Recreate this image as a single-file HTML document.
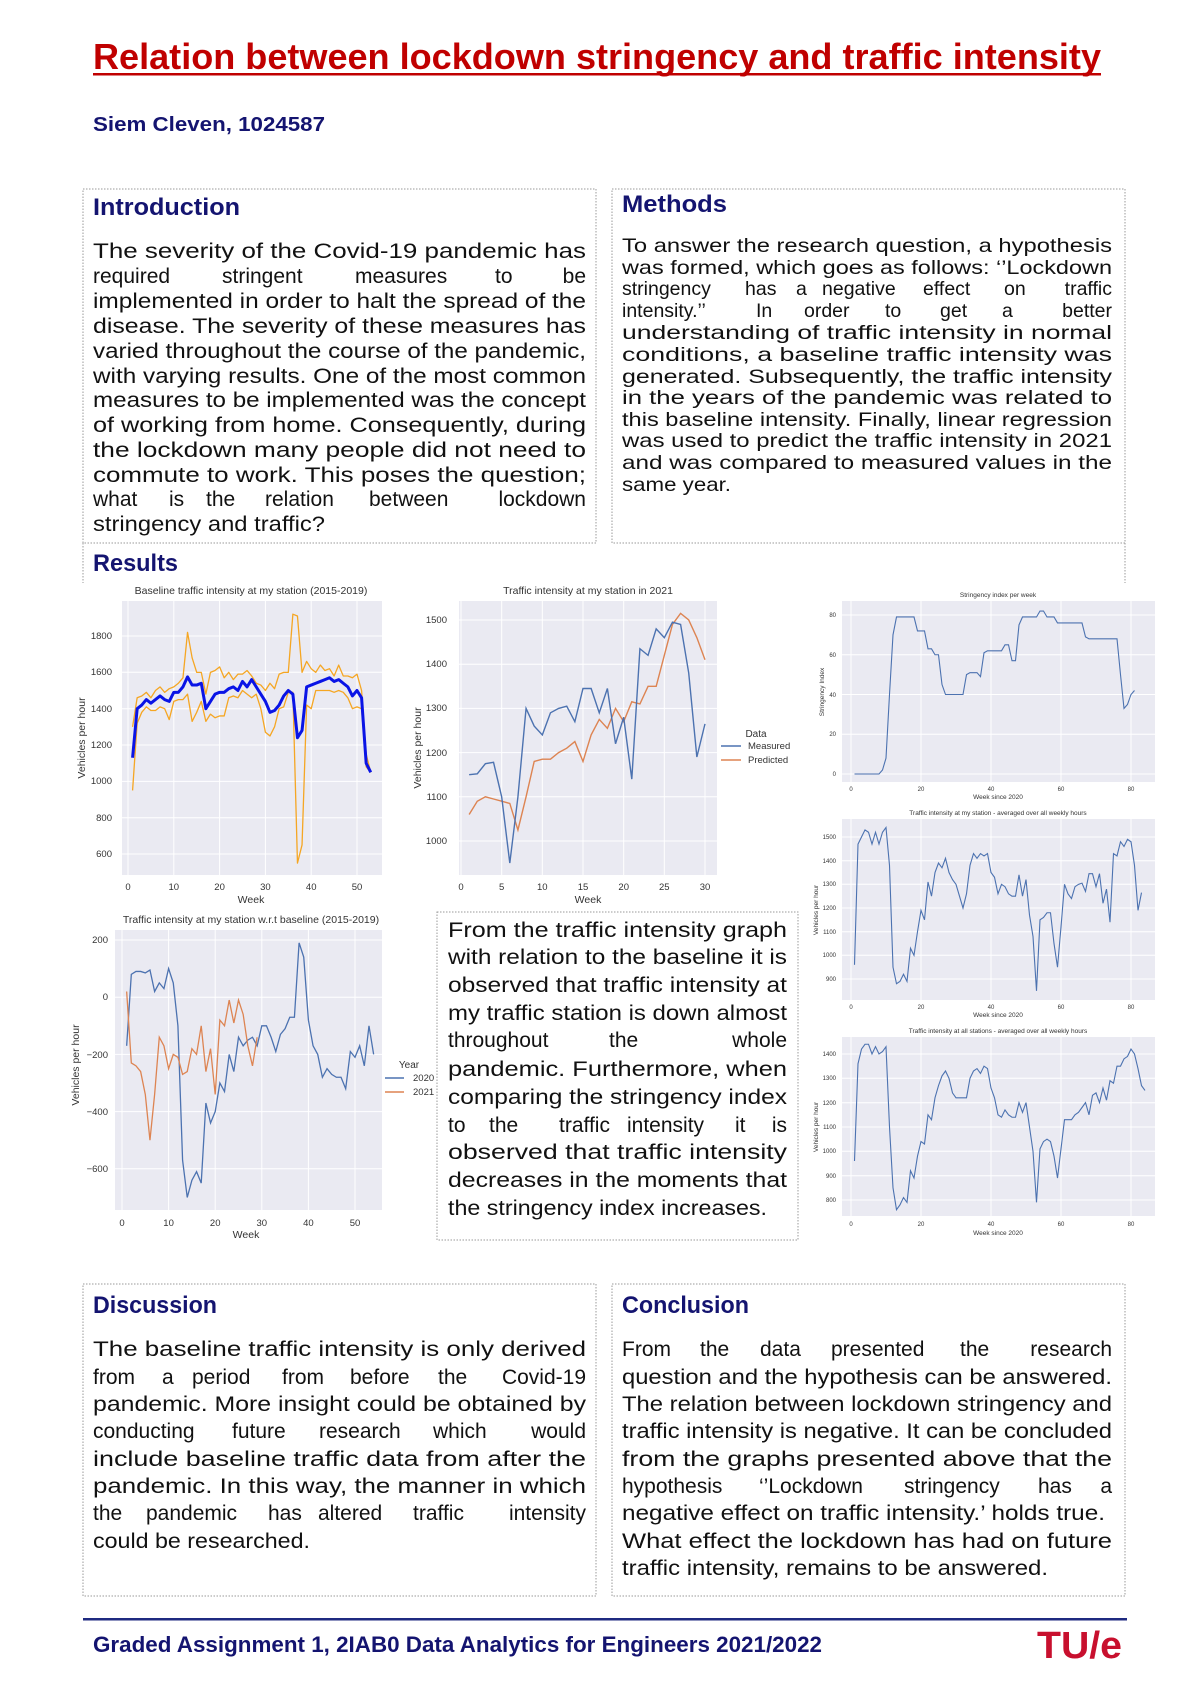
<!DOCTYPE html>
<html><head><meta charset="utf-8"><style>html,body{margin:0;padding:0;background:#fff}svg{display:block}</style></head><body>
<svg width="1200" height="1698" viewBox="0 0 1200 1698" xmlns="http://www.w3.org/2000/svg" font-family="Liberation Sans, sans-serif">
<!-- header -->
<text x="93" y="69" font-size="36" font-weight="bold" fill="#c00000" textLength="1008" lengthAdjust="spacingAndGlyphs">Relation between lockdown stringency and traffic intensity</text>
<rect x="93" y="73" width="1008" height="2.5" fill="#c00000"/>
<text x="93" y="131" font-size="20" font-weight="bold" fill="#141470" textLength="232" lengthAdjust="spacingAndGlyphs">Siem Cleven, 1024587</text>

<!-- boxes -->
<g fill="none" stroke="#9a9a9a" stroke-width="1" stroke-dasharray="1.5,1.5">
<rect x="83" y="189" width="513" height="354"/>
<rect x="612" y="189" width="513" height="354"/>
<line x1="83" y1="543" x2="83" y2="583"/>
<line x1="1125" y1="543" x2="1125" y2="583"/>
<rect x="437" y="912" width="361" height="328"/>
<rect x="83" y="1284" width="513" height="312"/>
<rect x="612" y="1284" width="513" height="312"/>
</g>

<g font-size="24" font-weight="bold" fill="#141470">
<text x="93" y="215" textLength="147" lengthAdjust="spacingAndGlyphs">Introduction</text>
<text x="622" y="212" textLength="105" lengthAdjust="spacingAndGlyphs">Methods</text>
<text x="93" y="571" textLength="85" lengthAdjust="spacingAndGlyphs">Results</text>
<text x="93" y="1313" textLength="124" lengthAdjust="spacingAndGlyphs">Discussion</text>
<text x="622" y="1313" textLength="127" lengthAdjust="spacingAndGlyphs">Conclusion</text>
</g>

<!-- intro text -->
<g font-size="21" fill="#111">
<text x="93" y="258" textLength="493" lengthAdjust="spacingAndGlyphs">The severity of the Covid-19 pandemic has</text>
<text y="283"><tspan x="93">required</tspan><tspan x="222">stringent</tspan><tspan x="355">measures</tspan><tspan x="495">to</tspan></text><text x="586" y="283" text-anchor="end">be</text>
<text x="93" y="308" textLength="493" lengthAdjust="spacingAndGlyphs">implemented in order to halt the spread of the</text>
<text x="93" y="333" textLength="493" lengthAdjust="spacingAndGlyphs">disease. The severity of these measures has</text>
<text x="93" y="358" textLength="493" lengthAdjust="spacingAndGlyphs">varied throughout the course of the pandemic,</text>
<text x="93" y="383" textLength="493" lengthAdjust="spacingAndGlyphs">with varying results. One of the most common</text>
<text x="93" y="407" textLength="493" lengthAdjust="spacingAndGlyphs">measures to be implemented was the concept</text>
<text x="93" y="432" textLength="493" lengthAdjust="spacingAndGlyphs">of working from home. Consequently, during</text>
<text x="93" y="457" textLength="493" lengthAdjust="spacingAndGlyphs">the lockdown many people did not need to</text>
<text x="93" y="482" textLength="493" lengthAdjust="spacingAndGlyphs">commute to work.  This poses the question;</text>
<text y="506"><tspan x="93">what</tspan><tspan x="169">is</tspan><tspan x="206">the</tspan><tspan x="265">relation</tspan><tspan x="369">between</tspan></text><text x="586" y="506" text-anchor="end">lockdown</text>
<text x="93" y="531" textLength="232" lengthAdjust="spacingAndGlyphs">stringency and traffic?</text>
</g>

<!-- methods text -->
<g font-size="19.5" fill="#111">
<text x="622" y="252" textLength="490" lengthAdjust="spacingAndGlyphs">To answer the research question, a hypothesis</text>
<text x="622" y="274" textLength="490" lengthAdjust="spacingAndGlyphs">was formed, which goes as follows: ‘’Lockdown</text>
<text y="295"><tspan x="622">stringency</tspan><tspan x="745">has</tspan><tspan x="796">a</tspan><tspan x="822">negative</tspan><tspan x="923">effect</tspan><tspan x="1004">on</tspan></text><text x="1112" y="295" text-anchor="end">traffic</text>
<text y="317"><tspan x="622">intensity.’’</tspan><tspan x="756">In</tspan><tspan x="804">order</tspan><tspan x="885">to</tspan><tspan x="940">get</tspan><tspan x="1002">a</tspan></text><text x="1112" y="317" text-anchor="end">better</text>
<text x="622" y="339" textLength="490" lengthAdjust="spacingAndGlyphs">understanding of traffic intensity in normal</text>
<text x="622" y="361" textLength="490" lengthAdjust="spacingAndGlyphs">conditions, a baseline traffic intensity was</text>
<text x="622" y="383" textLength="490" lengthAdjust="spacingAndGlyphs">generated. Subsequently, the traffic intensity</text>
<text x="622" y="404" textLength="490" lengthAdjust="spacingAndGlyphs">in the years of the pandemic was related to</text>
<text x="622" y="426" textLength="490" lengthAdjust="spacingAndGlyphs">this baseline intensity. Finally, linear regression</text>
<text x="622" y="447" textLength="490" lengthAdjust="spacingAndGlyphs">was used to predict the traffic intensity in 2021</text>
<text x="622" y="469" textLength="490" lengthAdjust="spacingAndGlyphs">and was compared to measured values in the</text>
<text x="622" y="491" textLength="109" lengthAdjust="spacingAndGlyphs">same year.</text>
</g>

<!-- middle text -->
<g font-size="21" fill="#111">
<text x="448" y="937" textLength="339" lengthAdjust="spacingAndGlyphs">From the traffic intensity graph</text>
<text x="448" y="964" textLength="339" lengthAdjust="spacingAndGlyphs">with relation to the baseline it is</text>
<text x="448" y="992" textLength="339" lengthAdjust="spacingAndGlyphs">observed that traffic intensity at</text>
<text x="448" y="1020" textLength="339" lengthAdjust="spacingAndGlyphs">my traffic station is down almost</text>
<text y="1047"><tspan x="448">throughout</tspan><tspan x="609">the</tspan></text><text x="787" y="1047" text-anchor="end">whole</text>
<text x="448" y="1076" textLength="339" lengthAdjust="spacingAndGlyphs">pandemic. Furthermore, when</text>
<text x="448" y="1104" textLength="339" lengthAdjust="spacingAndGlyphs">comparing the stringency index</text>
<text y="1132"><tspan x="448">to</tspan><tspan x="489">the</tspan><tspan x="559">traffic</tspan><tspan x="627">intensity</tspan><tspan x="735">it</tspan></text><text x="787" y="1132" text-anchor="end">is</text>
<text x="448" y="1159" textLength="339" lengthAdjust="spacingAndGlyphs">observed that traffic intensity</text>
<text x="448" y="1187" textLength="339" lengthAdjust="spacingAndGlyphs">decreases in the moments that</text>
<text x="448" y="1215" textLength="319" lengthAdjust="spacingAndGlyphs">the stringency index increases.</text>
</g>

<!-- discussion -->
<g font-size="21" fill="#111">
<text x="93" y="1356" textLength="493" lengthAdjust="spacingAndGlyphs">The baseline traffic intensity is only derived</text>
<text y="1384"><tspan x="93">from</tspan><tspan x="162">a</tspan><tspan x="192">period</tspan><tspan x="282">from</tspan><tspan x="350">before</tspan><tspan x="438">the</tspan></text><text x="586" y="1384" text-anchor="end">Covid-19</text>
<text x="93" y="1411" textLength="493" lengthAdjust="spacingAndGlyphs">pandemic. More insight could be obtained by</text>
<text y="1438"><tspan x="93">conducting</tspan><tspan x="232">future</tspan><tspan x="319">research</tspan><tspan x="433">which</tspan></text><text x="586" y="1438" text-anchor="end">would</text>
<text x="93" y="1466" textLength="493" lengthAdjust="spacingAndGlyphs">include baseline traffic data from after the</text>
<text x="93" y="1493" textLength="493" lengthAdjust="spacingAndGlyphs">pandemic. In this way, the manner in which</text>
<text y="1520"><tspan x="93">the</tspan><tspan x="146">pandemic</tspan><tspan x="268">has</tspan><tspan x="318">altered</tspan><tspan x="413">traffic</tspan></text><text x="586" y="1520" text-anchor="end">intensity</text>
<text x="93" y="1548" textLength="217" lengthAdjust="spacingAndGlyphs">could be researched.</text>
</g>
<!-- conclusion -->
<g font-size="21" fill="#111">
<text y="1356"><tspan x="622">From</tspan><tspan x="700">the</tspan><tspan x="760">data</tspan><tspan x="831">presented</tspan><tspan x="960">the</tspan></text><text x="1112" y="1356" text-anchor="end">research</text>
<text x="622" y="1384" textLength="490" lengthAdjust="spacingAndGlyphs">question and the hypothesis can be answered.</text>
<text x="622" y="1411" textLength="490" lengthAdjust="spacingAndGlyphs">The relation between lockdown stringency and</text>
<text x="622" y="1438" textLength="490" lengthAdjust="spacingAndGlyphs">traffic intensity is negative. It can be concluded</text>
<text x="622" y="1466" textLength="490" lengthAdjust="spacingAndGlyphs">from the graphs presented above that the</text>
<text y="1493"><tspan x="622">hypothesis</tspan><tspan x="759">‘’Lockdown</tspan><tspan x="904">stringency</tspan><tspan x="1038">has</tspan></text><text x="1112" y="1493" text-anchor="end">a</text>
<text x="622" y="1520" textLength="483" lengthAdjust="spacingAndGlyphs">negative effect on traffic intensity.’ holds true.</text>
<text x="622" y="1548" textLength="490" lengthAdjust="spacingAndGlyphs">What effect the lockdown has had on future</text>
<text x="622" y="1575" textLength="426" lengthAdjust="spacingAndGlyphs">traffic intensity, remains to be answered.</text>
</g>

<!-- footer -->
<rect x="83" y="1618" width="1044" height="2.5" fill="#1f2a80"/>
<text x="93" y="1652" font-size="22" font-weight="bold" fill="#141470" textLength="729" lengthAdjust="spacingAndGlyphs">Graded Assignment 1, 2IAB0 Data Analytics for Engineers 2021/2022</text>
<text x="1037" y="1658" font-size="38" font-weight="bold" fill="#c8102e" textLength="85" lengthAdjust="spacingAndGlyphs">TU/e</text>

<!-- ================= CHART 1 ================= -->
<rect x="122" y="601" width="260" height="274" fill="#eaeaf2"/>
<g stroke="#fff" stroke-width="1">
<line x1="122" x2="382" y1="854" y2="854"/><line x1="122" x2="382" y1="817.7" y2="817.7"/><line x1="122" x2="382" y1="781.4" y2="781.4"/><line x1="122" x2="382" y1="745" y2="745"/><line x1="122" x2="382" y1="708.7" y2="708.7"/><line x1="122" x2="382" y1="672.3" y2="672.3"/><line x1="122" x2="382" y1="636" y2="636"/>
<line y1="601" y2="875" x1="128" x2="128"/><line y1="601" y2="875" x1="173.8" x2="173.8"/><line y1="601" y2="875" x1="219.6" x2="219.6"/><line y1="601" y2="875" x1="265.4" x2="265.4"/><line y1="601" y2="875" x1="311.2" x2="311.2"/><line y1="601" y2="875" x1="357" x2="357"/>
</g>
<g transform="matrix(4.58 0 0 -0.1817 128 963.06)" fill="none" stroke-linejoin="round">
<polyline vector-effect="non-scaling-stroke" stroke="#f5a623" stroke-width="1.3" points="1,1300 2,1460 3,1470 4,1490 5,1460 6,1500 7,1520 8,1490 9,1510 10,1520 11,1540 12,1570 13,1820 14,1680 15,1600 16,1600 17,1480 18,1600 19,1610 20,1630 21,1570 22,1600 23,1560 24,1590 25,1590 26,1610 27,1580 28,1540 29,1530 30,1500 31,1540 32,1510 33,1590 34,1600 35,1600 36,1920 37,1910 38,1600 39,1660 40,1620 41,1600 42,1640 43,1610 44,1620 45,1580 46,1640 47,1580 48,1580 49,1570 50,1590 51,1500 52,1150 53,1050"/>
<polyline vector-effect="non-scaling-stroke" stroke="#f5a623" stroke-width="1.3" points="1,950 2,1320 3,1380 4,1410 5,1390 6,1390 7,1410 8,1400 9,1340 10,1440 11,1450 12,1450 13,1480 14,1330 15,1380 16,1440 17,1330 18,1370 19,1350 20,1360 21,1360 22,1460 23,1470 24,1460 25,1500 26,1480 27,1460 28,1480 29,1400 30,1270 31,1250 32,1300 33,1400 34,1410 35,1490 36,1490 37,550 38,650 39,1420 40,1400 41,1500 42,1500 43,1500 44,1500 45,1490 46,1500 47,1490 48,1460 49,1400 50,1410 51,1400 52,1080 53,1050"/>
<polyline vector-effect="non-scaling-stroke" stroke="#0a14e6" stroke-width="3" points="1,1130 2,1400 3,1420 4,1450 5,1430 6,1450 7,1470 8,1450 9,1440 10,1490 11,1490 12,1520 13,1575 14,1530 15,1530 16,1540 17,1400 18,1440 19,1480 20,1490 21,1490 22,1510 23,1520 24,1500 25,1550 26,1520 27,1560 28,1520 29,1480 30,1440 31,1380 32,1390 33,1420 34,1470 35,1500 36,1480 37,1240 38,1280 39,1520 40,1530 41,1540 42,1550 43,1560 44,1570 45,1550 46,1560 47,1540 48,1520 49,1470 50,1500 51,1460 52,1100 53,1050"/>
</g>
<text x="251" y="594" font-size="10.5" fill="#333" text-anchor="middle">Baseline traffic intensity at my station (2015-2019)</text>
<g font-size="9.5" fill="#333" text-anchor="end">
<text x="112" y="857">600</text><text x="112" y="821">800</text><text x="112" y="784">1000</text><text x="112" y="748">1200</text><text x="112" y="712">1400</text><text x="112" y="675">1600</text><text x="112" y="639">1800</text>
</g>
<g font-size="9.5" fill="#333" text-anchor="middle">
<text x="128" y="890">0</text><text x="173.8" y="890">10</text><text x="219.6" y="890">20</text><text x="265.4" y="890">30</text><text x="311.2" y="890">40</text><text x="357" y="890">50</text>
<text x="251" y="903" font-size="10.5">Week</text>
</g>
<text transform="translate(85,738) rotate(-90)" font-size="10.5" fill="#333" text-anchor="middle">Vehicles per hour</text>

<!-- ================= CHART 2 ================= -->
<rect x="459" y="601" width="258" height="274" fill="#eaeaf2"/>
<g stroke="#fff" stroke-width="1">
<line x1="459" x2="717" y1="841" y2="841"/><line x1="459" x2="717" y1="796.8" y2="796.8"/><line x1="459" x2="717" y1="752.6" y2="752.6"/><line x1="459" x2="717" y1="708.4" y2="708.4"/><line x1="459" x2="717" y1="664.2" y2="664.2"/><line x1="459" x2="717" y1="620" y2="620"/>
<line y1="601" y2="875" x1="461" x2="461"/><line y1="601" y2="875" x1="501.7" x2="501.7"/><line y1="601" y2="875" x1="542.3" x2="542.3"/><line y1="601" y2="875" x1="583" x2="583"/><line y1="601" y2="875" x1="623.7" x2="623.7"/><line y1="601" y2="875" x1="664.3" x2="664.3"/><line y1="601" y2="875" x1="705" x2="705"/>
</g>
<g transform="matrix(8.133 0 0 -0.442 461 1283)" fill="none">
<polyline vector-effect="non-scaling-stroke" stroke="#dd8452" stroke-width="1.4" points="1,1060 2,1090 3,1100 4,1095 5,1090 6,1085 7,1025 8,1100 9,1180 10,1185 11,1185 12,1200 13,1210 14,1225 15,1180 16,1240 17,1275 18,1255 19,1300 20,1270 21,1315 22,1310 23,1350 24,1350 25,1420 26,1490 27,1515 28,1500 29,1460 30,1410"/>
<polyline vector-effect="non-scaling-stroke" stroke="#4c72b0" stroke-width="1.4" points="1,1150 2,1152 3,1175 4,1178 5,1100 6,950 7,1100 8,1300 9,1260 10,1240 11,1290 12,1300 13,1305 14,1270 15,1345 16,1345 17,1290 18,1345 19,1220 20,1280 21,1140 22,1435 23,1420 24,1480 25,1460 26,1495 27,1490 28,1380 29,1190 30,1265"/>
</g>
<text x="588" y="594" font-size="10.5" fill="#333" text-anchor="middle">Traffic intensity at my station in 2021</text>
<g font-size="9.5" fill="#333" text-anchor="end">
<text x="447" y="844">1000</text><text x="447" y="800">1100</text><text x="447" y="756">1200</text><text x="447" y="711">1300</text><text x="447" y="667">1400</text><text x="447" y="623">1500</text>
</g>
<g font-size="9.5" fill="#333" text-anchor="middle">
<text x="461" y="890">0</text><text x="501.7" y="890">5</text><text x="542.3" y="890">10</text><text x="583" y="890">15</text><text x="623.7" y="890">20</text><text x="664.3" y="890">25</text><text x="705" y="890">30</text>
<text x="588" y="903" font-size="10.5">Week</text>
</g>
<text transform="translate(421,748) rotate(-90)" font-size="10.5" fill="#333" text-anchor="middle">Vehicles per hour</text>
<text x="756" y="737" font-size="10" fill="#333" text-anchor="middle">Data</text>
<line x1="721" x2="741" y1="746" y2="746" stroke="#4c72b0" stroke-width="1.5"/>
<line x1="721" x2="741" y1="760" y2="760" stroke="#dd8452" stroke-width="1.5"/>
<text x="748" y="749" font-size="9.5" fill="#333">Measured</text>
<text x="748" y="763" font-size="9.5" fill="#333">Predicted</text>

<!-- ================= CHART 3 ================= -->
<rect x="842" y="601" width="313" height="181" fill="#eaeaf2"/>
<g stroke="#fff" stroke-width="1">
<line x1="842" x2="1155" y1="774" y2="774"/><line x1="842" x2="1155" y1="734.25" y2="734.25"/><line x1="842" x2="1155" y1="694.5" y2="694.5"/><line x1="842" x2="1155" y1="654.75" y2="654.75"/><line x1="842" x2="1155" y1="615" y2="615"/>
<line y1="601" y2="782" x1="851" x2="851"/><line y1="601" y2="782" x1="921" x2="921"/><line y1="601" y2="782" x1="991" x2="991"/><line y1="601" y2="782" x1="1061" x2="1061"/><line y1="601" y2="782" x1="1131" x2="1131"/>
</g>
<g transform="matrix(3.5 0 0 -1.9875 851 774)" fill="none">
<polyline vector-effect="non-scaling-stroke" stroke="#4c72b0" stroke-width="1.1" points="1,0 8,0 9,2 10,8 11,40 12,70 13,79 18,79 19,72 21,72 22,63 23,63 24,60 25,60 26,45 27,40 32,40 33,50 34,51 36,51 37,49 38,61 39,62 43,62 44,65 45,65 46,57 47,57 48,75 49,79 53,79 54,82 55,82 56,79 58,79 59,76 66,76 67,69 68,68 76,68 77,50 78,33 79,35 80,40 81,42"/>
</g>
<text x="998" y="597" font-size="6.5" fill="#333" text-anchor="middle">Stringency index per week</text>
<g font-size="6" fill="#333" text-anchor="end">
<text x="836" y="776">0</text><text x="836" y="736">20</text><text x="836" y="697">40</text><text x="836" y="657">60</text><text x="836" y="617">80</text>
</g>
<g font-size="6" fill="#333" text-anchor="middle">
<text x="851" y="791">0</text><text x="921" y="791">20</text><text x="991" y="791">40</text><text x="1061" y="791">60</text><text x="1131" y="791">80</text>
<text x="998" y="799" font-size="6.5">Week since 2020</text>
</g>
<text transform="translate(824,692) rotate(-90)" font-size="6.5" fill="#333" text-anchor="middle">Stringency Index</text>

<!-- ================= CHART 4 ================= -->
<rect x="842" y="819" width="313" height="181" fill="#eaeaf2"/>
<g stroke="#fff" stroke-width="1">
<line x1="842" x2="1155" y1="979" y2="979"/><line x1="842" x2="1155" y1="955.3" y2="955.3"/><line x1="842" x2="1155" y1="931.7" y2="931.7"/><line x1="842" x2="1155" y1="908" y2="908"/><line x1="842" x2="1155" y1="884.3" y2="884.3"/><line x1="842" x2="1155" y1="860.7" y2="860.7"/><line x1="842" x2="1155" y1="837" y2="837"/>
<line y1="819" y2="1000" x1="851" x2="851"/><line y1="819" y2="1000" x1="921" x2="921"/><line y1="819" y2="1000" x1="991" x2="991"/><line y1="819" y2="1000" x1="1061" x2="1061"/><line y1="819" y2="1000" x1="1131" x2="1131"/>
</g>
<g transform="matrix(3.5 0 0 -0.2367 851 1192.05)" fill="none">
<polyline vector-effect="non-scaling-stroke" stroke="#4c72b0" stroke-width="1.1" points="1,960 2,1470 3,1500 4,1530 5,1520 6,1470 7,1520 8,1470 9,1520 10,1540 11,1380 12,950 13,880 14,890 15,920 16,890 17,1030 18,1000 19,1100 20,1190 21,1150 22,1310 23,1250 24,1350 25,1390 26,1370 27,1410 28,1350 29,1320 30,1300 31,1250 32,1200 33,1260 34,1380 35,1430 36,1410 37,1430 38,1420 39,1430 40,1350 41,1330 42,1260 43,1300 44,1290 45,1260 46,1250 47,1250 48,1340 49,1250 50,1320 51,1170 52,1080 53,850 54,1150 55,1160 56,1180 57,1180 58,1050 59,950 60,1120 61,1300 62,1260 63,1240 64,1290 65,1300 66,1305 67,1270 68,1345 69,1345 70,1290 71,1345 72,1220 73,1280 74,1140 75,1430 76,1420 77,1480 78,1460 79,1490 80,1480 81,1380 82,1190 83,1265"/>
</g>
<text x="998" y="815" font-size="6.5" fill="#333" text-anchor="middle">Traffic intensity at my station - averaged over all weekly hours</text>
<g font-size="6" fill="#333" text-anchor="end">
<text x="836" y="981">900</text><text x="836" y="957">1000</text><text x="836" y="934">1100</text><text x="836" y="910">1200</text><text x="836" y="886">1300</text><text x="836" y="863">1400</text><text x="836" y="839">1500</text>
</g>
<g font-size="6" fill="#333" text-anchor="middle">
<text x="851" y="1009">0</text><text x="921" y="1009">20</text><text x="991" y="1009">40</text><text x="1061" y="1009">60</text><text x="1131" y="1009">80</text>
<text x="998" y="1017" font-size="6.5">Week since 2020</text>
</g>
<text transform="translate(818,910) rotate(-90)" font-size="6.5" fill="#333" text-anchor="middle">Vehicles per hour</text>

<!-- ================= CHART 5 ================= -->
<rect x="842" y="1037" width="313" height="179" fill="#eaeaf2"/>
<g stroke="#fff" stroke-width="1">
<line x1="842" x2="1155" y1="1200" y2="1200"/><line x1="842" x2="1155" y1="1175.7" y2="1175.7"/><line x1="842" x2="1155" y1="1151.3" y2="1151.3"/><line x1="842" x2="1155" y1="1127" y2="1127"/><line x1="842" x2="1155" y1="1102.7" y2="1102.7"/><line x1="842" x2="1155" y1="1078.3" y2="1078.3"/><line x1="842" x2="1155" y1="1054" y2="1054"/>
<line y1="1037" y2="1216" x1="851" x2="851"/><line y1="1037" y2="1216" x1="921" x2="921"/><line y1="1037" y2="1216" x1="991" x2="991"/><line y1="1037" y2="1216" x1="1061" x2="1061"/><line y1="1037" y2="1216" x1="1131" x2="1131"/>
</g>
<g transform="matrix(3.5 0 0 -0.2433 851 1394.6)" fill="none">
<polyline vector-effect="non-scaling-stroke" stroke="#4c72b0" stroke-width="1.1" points="1,960 2,1360 3,1420 4,1440 5,1440 6,1400 7,1430 8,1400 9,1410 10,1430 11,1100 12,850 13,760 14,780 15,810 16,790 17,920 18,890 19,980 20,1040 21,1030 22,1150 23,1130 24,1220 25,1270 26,1310 27,1330 28,1300 29,1240 30,1220 31,1220 32,1220 33,1220 34,1300 35,1330 36,1340 37,1320 38,1350 39,1340 40,1260 41,1220 42,1150 43,1140 44,1170 45,1150 46,1140 47,1140 48,1200 49,1160 50,1200 51,1100 52,1000 53,790 54,1010 55,1040 56,1050 57,1040 58,980 59,890 60,1010 61,1130 62,1130 63,1130 64,1150 65,1160 66,1180 67,1200 68,1150 69,1230 70,1240 71,1200 72,1260 73,1210 74,1290 75,1280 76,1350 77,1350 78,1380 79,1390 80,1420 81,1400 82,1340 83,1270 84,1250"/>
</g>
<text x="998" y="1033" font-size="6.5" fill="#333" text-anchor="middle">Traffic intensity at all stations - averaged over all weekly hours</text>
<g font-size="6" fill="#333" text-anchor="end">
<text x="836" y="1202">800</text><text x="836" y="1178">900</text><text x="836" y="1153">1000</text><text x="836" y="1129">1100</text><text x="836" y="1105">1200</text><text x="836" y="1080">1300</text><text x="836" y="1056">1400</text>
</g>
<g font-size="6" fill="#333" text-anchor="middle">
<text x="851" y="1226">0</text><text x="921" y="1226">20</text><text x="991" y="1226">40</text><text x="1061" y="1226">60</text><text x="1131" y="1226">80</text>
<text x="998" y="1235" font-size="6.5">Week since 2020</text>
</g>
<text transform="translate(818,1127) rotate(-90)" font-size="6.5" fill="#333" text-anchor="middle">Vehicles per hour</text>

<!-- ================= CHART 6 ================= -->
<rect x="115" y="930" width="267" height="280" fill="#eaeaf2"/>
<g stroke="#fff" stroke-width="1">
<line x1="115" x2="382" y1="940" y2="940"/><line x1="115" x2="382" y1="997.2" y2="997.2"/><line x1="115" x2="382" y1="1054.4" y2="1054.4"/><line x1="115" x2="382" y1="1111.6" y2="1111.6"/><line x1="115" x2="382" y1="1168.8" y2="1168.8"/>
<line y1="930" y2="1210" x1="122" x2="122"/><line y1="930" y2="1210" x1="168.6" x2="168.6"/><line y1="930" y2="1210" x1="215.2" x2="215.2"/><line y1="930" y2="1210" x1="261.8" x2="261.8"/><line y1="930" y2="1210" x1="308.4" x2="308.4"/><line y1="930" y2="1210" x1="355" x2="355"/>
</g>
<g transform="matrix(4.66 0 0 -0.286 122 997.2)" fill="none">
<polyline vector-effect="non-scaling-stroke" stroke="#4c72b0" stroke-width="1.3" points="1,-170 2,80 3,90 4,90 5,85 6,95 7,20 8,50 9,30 10,100 11,50 12,-100 13,-570 14,-700 15,-640 16,-610 17,-650 18,-370 19,-440 20,-400 21,-300 22,-330 23,-200 24,-260 25,-140 26,-170 27,-150 28,-140 29,-170 30,-100 31,-100 32,-140 33,-190 34,-130 35,-110 36,-70 37,-70 38,190 39,140 40,-80 41,-170 42,-200 43,-280 44,-250 45,-270 46,-280 47,-280 48,-320 49,-190 50,-210 51,-170 52,-240 53,-100 54,-200"/>
<polyline vector-effect="non-scaling-stroke" stroke="#dd8452" stroke-width="1.3" points="1,20 2,-230 3,-240 4,-260 5,-340 6,-500 7,-340 8,-140 9,-170 10,-250 11,-200 12,-210 13,-270 14,-260 15,-180 16,-200 17,-100 18,-260 19,-180 20,-340 21,-80 22,-100 23,-10 24,-90 25,-10 26,-60 27,-170 28,-240 29,-140"/>
</g>
<text x="251" y="923" font-size="10.5" fill="#333" text-anchor="middle">Traffic intensity at my station w.r.t baseline (2015-2019)</text>
<g font-size="9.5" fill="#333" text-anchor="end">
<text x="108" y="943">200</text><text x="108" y="1000">0</text><text x="108" y="1058">−200</text><text x="108" y="1115">−400</text><text x="108" y="1172">−600</text>
</g>
<g font-size="9.5" fill="#333" text-anchor="middle">
<text x="122" y="1226">0</text><text x="168.6" y="1226">10</text><text x="215.2" y="1226">20</text><text x="261.8" y="1226">30</text><text x="308.4" y="1226">40</text><text x="355" y="1226">50</text>
<text x="246" y="1238" font-size="10.5">Week</text>
</g>
<text transform="translate(79,1065) rotate(-90)" font-size="10.5" fill="#333" text-anchor="middle">Vehicles per hour</text>
<text x="409" y="1068" font-size="10" fill="#333" text-anchor="middle">Year</text>
<line x1="385" x2="404" y1="1078" y2="1078" stroke="#4c72b0" stroke-width="1.5"/>
<line x1="385" x2="404" y1="1092" y2="1092" stroke="#dd8452" stroke-width="1.5"/>
<text x="413" y="1081" font-size="9.5" fill="#333">2020</text>
<text x="413" y="1095" font-size="9.5" fill="#333">2021</text>
</svg>
</body></html>
